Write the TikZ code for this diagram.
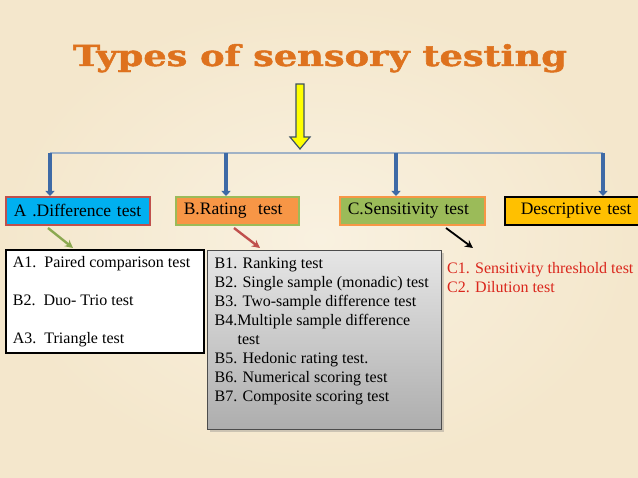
\documentclass[tikz,border=0pt]{standalone}
\usepackage{fontspec}
\setmainfont{Liberation Serif}
\newfontfamily\titlefont[BoldFeatures={FakeBold=1.5}]{DejaVu Serif}
\usetikzlibrary{arrows.meta,shadows}
\definecolor{bgin}{RGB}{249,241,224}
\definecolor{bgout}{RGB}{244,231,204}
\definecolor{titleor}{RGB}{222,114,30}
\definecolor{hline}{RGB}{160,178,198}
\definecolor{steel}{RGB}{62,106,166}
\definecolor{cyanbox}{RGB}{0,176,240}
\definecolor{redbd}{RGB}{192,80,77}
\definecolor{orbox}{RGB}{247,150,70}
\definecolor{grbox}{RGB}{155,187,89}
\definecolor{goldbox}{RGB}{255,192,0}
\definecolor{redtxt}{RGB}{218,38,28}
\definecolor{yel}{RGB}{255,255,0}
\definecolor{yelbd}{RGB}{60,80,100}
\tikzset{
  catbox/.style={anchor=north west, line width=1.6pt, minimum height=28pt,
    inner xsep=8pt, inner ysep=0pt, align=left,
    font=\fontsize{17.5}{20}\selectfont},
  vlink/.style={draw=steel, line width=4pt, -{Triangle[width=9pt,length=5pt]}},
  dlink/.style={line width=2.4pt, -{Stealth[length=8pt,width=8pt]}},
  listfont/.style={font=\fontsize{16}{19}\selectfont}
}
\begin{document}
\begin{tikzpicture}[x=1pt,y=-1pt]
\useasboundingbox (0,0) rectangle (638,478);
\shade[inner color=bgin, outer color=bgout] (0,0) rectangle (638,478);

% title
\node[anchor=base, text=titleor, inner sep=0pt, font=\titlefont\bfseries\fontsize{30}{36}\selectfont]
  (title) at (320,66) {\resizebox{494pt}{22pt}{Types of sensory testing}};

% yellow arrow
\coordinate (ytip) at (300,149);
\draw[yelbd, line width=1.2pt, fill=yel]
  (296,84) -- (304,84) -- (304,137) -- (310,137) -- (ytip) -- (290,137) -- (296,137) -- cycle;

% horizontal bar
\coordinate (hl) at (50,153);
\coordinate (hr) at (603,153);
\draw[hline, line width=2pt] (hl) -- (hr);

% category boxes
\node[catbox, fill=cyanbox, draw=redbd, text width=128pt] (A) at (5,196) {A .Difference test};
\node[catbox, fill=orbox, draw=grbox, text width=107pt] (B) at (175,196) {B.Rating\ \ test};
\node[catbox, fill=grbox, draw=orbox, text width=129pt] (C) at (339,196) {C.Sensitivity test};
\node[catbox, fill=goldbox, draw=black, inner xsep=16pt, text width=120pt] (D) at (504,196) {Descriptive test};

% vertical arrows
\coordinate (ta) at (50,153);
\coordinate (tb) at (226,153);
\coordinate (tc) at (396,153);
\coordinate (td) at (603,153);
\draw[vlink] (ta) -- (ta |- A.north);
\draw[vlink] (tb) -- (tb |- B.north);
\draw[vlink] (tc) -- (tc |- C.north);
\draw[vlink] (td) -- (td |- D.north);

% list boxes
\node[anchor=north west, draw=black, line width=1.8pt, fill=white, inner sep=7pt, listfont] (LA) at (5,249)
{\begin{minipage}[t][89pt][t]{184pt}\setlength{\baselineskip}{38pt}%
A1.\ \ Paired comparison test\par
B2.\ \ Duo- Trio test\par
A3.\ \ Triangle test\end{minipage}};

\node[anchor=north west, draw=black!70, line width=1.2pt, top color=black!10, bottom color=black!32,
  drop shadow={opacity=0.35, shadow xshift=2pt, shadow yshift=-2pt},
  inner sep=7pt, listfont] (LB) at (207,250)
{\begin{minipage}[t][165pt][t]{220pt}\setlength{\baselineskip}{19pt}%
B1. Ranking test\par
B2. Single sample (monadic) test\par
B3. Two-sample difference test\par
B4.Multiple sample difference\par
\hspace*{23pt}test\par
B5. Hedonic rating test.\par
B6. Numerical scoring test\par
B7. Composite scoring test\end{minipage}};

\node[anchor=north west, inner sep=7pt, text=redtxt, align=left, listfont] (LC) at (440,255)
{C1. Sensitivity threshold test\\C2. Dilution test};

% diagonal arrows
\coordinate (ga) at (48,228);
\coordinate (gb) at (73,248);
\coordinate (ra) at (234,228);
\coordinate (rb) at (260,248);
\coordinate (ka) at (446,228);
\coordinate (kb) at (473,248);
\draw[dlink, draw=grbox!90!black, fill=grbox!90!black] (ga) -- (gb);
\draw[dlink, draw=redbd, fill=redbd] (ra) -- (rb);
\draw[dlink, draw=black, line width=1.8pt] (ka) -- (kb);
\end{tikzpicture}
\end{document}
